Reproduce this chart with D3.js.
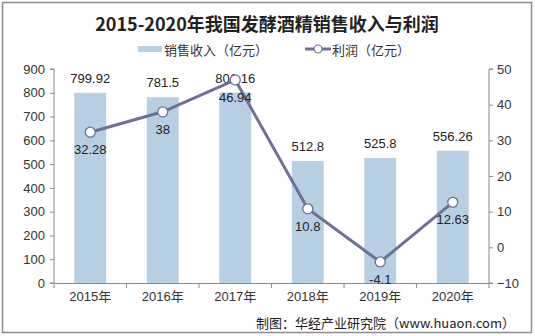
<!DOCTYPE html>
<html><head><meta charset="utf-8">
<script src="https://cdn.jsdelivr.net/npm/d3@7"></script>
<style>body{margin:0;background:#fff}svg{display:block}text{font-family:"Liberation Sans",Arial,sans-serif}</style>
</head><body>
<svg id="c" width="535" height="336"></svg>
<script>
const categories=["2015年","2016年","2017年","2018年","2019年","2020年"];
const revenue=[799.92,781.5,801.16,512.8,525.8,556.26];
const profit=[32.28,38,46.94,10.8,-4.1,12.63];
const revenueLabels=["799.92","781.5","801.16","512.8","525.8","556.26"];
const profitLabels=["32.28","38","46.94","10.8","-4.1","12.63"];
const leftTicks=[0,100,200,300,400,500,600,700,800,900];
const rightTicks=[-10,0,10,20,30,40,50];

const svg=d3.select("#c");
const L=54,R=489,T=69,B=283;
svg.append("rect").attr("x",2.5).attr("y",2.5).attr("width",529).attr("height",330).attr("fill","#fff").attr("stroke","#8c8c8c").attr("stroke-width",1.5);

const x=d3.scaleBand().domain(categories).range([L,R]).paddingInner(0.56).paddingOuter(0.28);
const yL=d3.scaleLinear().domain([0,900]).range([B,T]);
const yR=d3.scaleLinear().domain([-10,50]).range([B,T]);

svg.append("text").attr("x",267).attr("y",31).attr("text-anchor","middle")
 .style("font-family",'"Noto Sans CJK SC"').style("font-weight","bold").style("font-size","18px").attr("fill","#222")
 .text("2015-2020年我国发酵酒精销售收入与利润");

// bars
svg.selectAll(".bar").data(revenue).join("rect").attr("x",(d,i)=>x(categories[i])).attr("width",x.bandwidth())
 .attr("y",d=>yL(d)).attr("height",d=>yL(0)-yL(d)).attr("fill","#b6cfe2");

// axes
const axL=svg.append("g").attr("transform",`translate(${L},0)`).call(d3.axisLeft(yL).tickValues(leftTicks).tickSize(4).tickPadding(5));
const axR=svg.append("g").attr("transform",`translate(${R},0)`).call(d3.axisRight(yR).tickValues(rightTicks).tickSize(4).tickPadding(4));
const axB=svg.append("g").attr("transform",`translate(0,${B})`).call(d3.axisBottom(x).tickSize(0).tickPadding(9));
[axL,axR,axB].forEach(g=>{g.selectAll("path,line").attr("stroke","#8a8a8a");g.selectAll("text").attr("fill","#333").style("font-size","13px").style("font-family",'"Liberation Sans","Noto Sans CJK SC",sans-serif');});
axL.select(".domain").attr("d",`M-4,${T}H0V${B}H-4`);
axR.select(".domain").attr("d",`M4,${T}H0V${B}H4`);
// x category boundary ticks
const step=x.step();
d3.range(7).forEach(i=>{const xx=L+i*(R-L)/6;svg.append("line").attr("x1",xx).attr("x2",xx).attr("y1",B).attr("y2",B+5).attr("stroke","#8a8a8a");});

// bar labels
svg.selectAll(".bl").data(revenue).join("text").attr("x",(d,i)=>x(categories[i])+x.bandwidth()/2).attr("y",d=>yL(d)-10)
 .attr("text-anchor","middle").style("font-size","13px").attr("fill","#222").text((d,i)=>revenueLabels[i]);

// line
const cx=(i)=>x(categories[i])+x.bandwidth()/2;
const line=d3.line().x((d,i)=>cx(i)).y(d=>yR(d));
svg.append("path").datum(profit).attr("d",line).attr("fill","none").attr("stroke","#6e7196").attr("stroke-width",3);
svg.selectAll(".pt").data(profit).join("circle").attr("cx",(d,i)=>cx(i)).attr("cy",d=>yR(d)).attr("r",5)
 .attr("fill","#fff").attr("stroke","#6e7196").attr("stroke-width",1.3);
svg.selectAll(".pl").data(profit).join("text").attr("x",(d,i)=>cx(i)).attr("y",d=>yR(d)+22)
 .attr("text-anchor","middle").style("font-size","13px").attr("fill","#222").text((d,i)=>profitLabels[i]);

// legend
const lg=svg.append("g");
lg.append("rect").attr("x",138).attr("y",46).attr("width",24).attr("height",6).attr("fill","#b6cfe2");
lg.append("text").attr("x",164).attr("y",55).style("font-size","13px").style("font-family",'"Noto Sans CJK SC"').attr("fill","#333").text("销售收入（亿元）");
lg.append("line").attr("x1",305).attr("x2",331).attr("y1",49).attr("y2",49).attr("stroke","#6e7196").attr("stroke-width",3);
lg.append("circle").attr("cx",318).attr("cy",49).attr("r",4).attr("fill","#fff").attr("stroke","#6e7196").attr("stroke-width",1.2);
lg.append("text").attr("x",332).attr("y",55).style("font-size","13px").style("font-family",'"Noto Sans CJK SC"').attr("fill","#333").text("利润（亿元）");

// source
svg.append("text").attr("x",515).attr("y",328).attr("text-anchor","end").style("font-size","13px")
 .style("font-family",'"Noto Sans CJK SC"').attr("fill","#222").text("制图：华经产业研究院（www.huaon.com）");
</script>
</body></html>
